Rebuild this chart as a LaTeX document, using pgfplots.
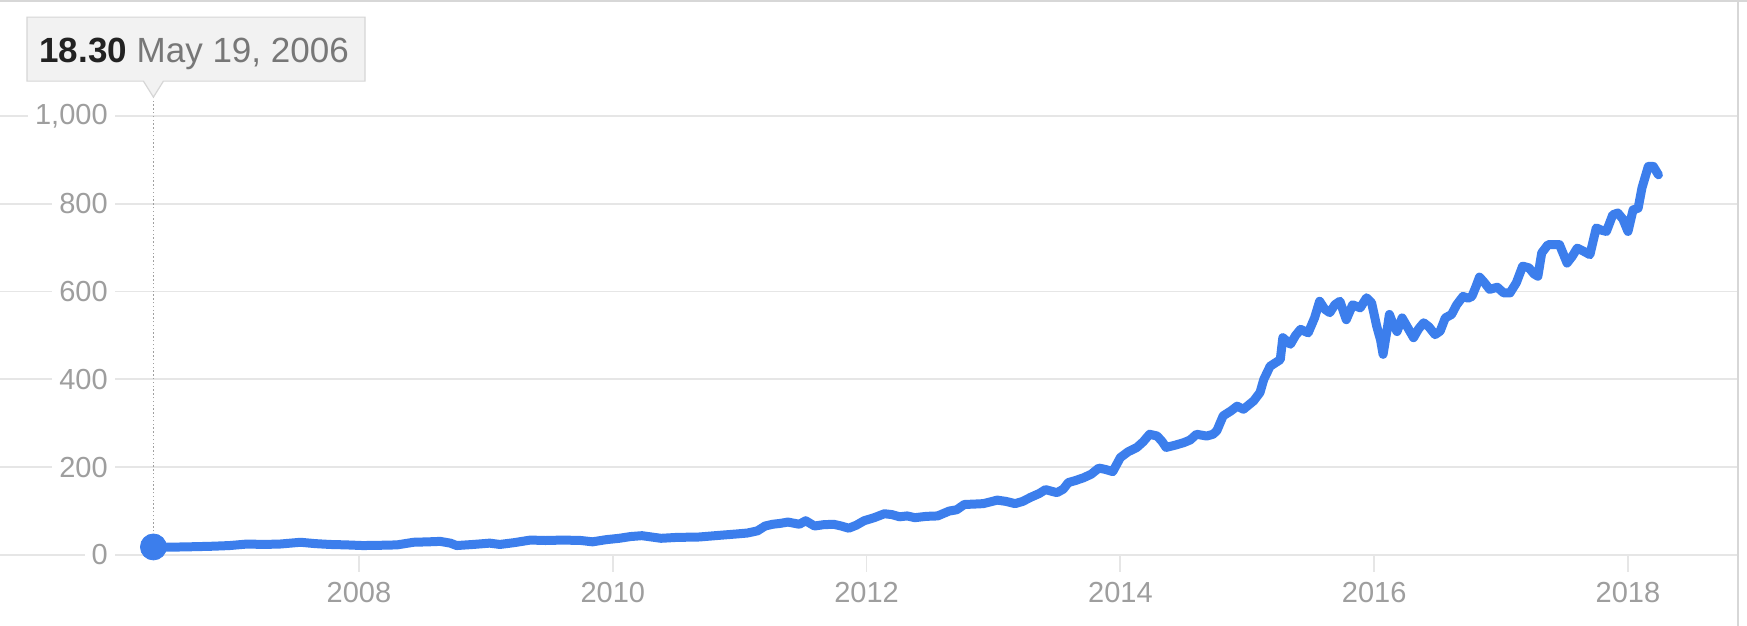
\documentclass[border=0pt]{standalone}
\usepackage{fontspec}
\setmainfont{Liberation Sans}
\usepackage{pgfplots}
\pgfplotsset{compat=1.18}

\definecolor{lineblue}{RGB}{60,126,236}
\definecolor{tickgray}{RGB}{158,158,158}
\definecolor{gridgray}{RGB}{230,230,230}
\definecolor{framegray}{RGB}{215,215,215}
\definecolor{tipfill}{RGB}{242,242,242}
\definecolor{tipdraw}{RGB}{214,214,214}
\definecolor{tiptext}{RGB}{119,119,119}
\definecolor{tipbold}{RGB}{34,34,34}

\begin{document}
\begin{tikzpicture}
\fill[white] (0,-35.5pt) rectangle (873.5pt,277.5pt);
\useasboundingbox (0,-35.5pt) rectangle (873.5pt,277.5pt);
\begin{axis}[
    at={(0,0)}, anchor=south west,
    scale only axis,
    width=869pt, height=219.5pt,
    xmin=2005.171, xmax=2018.867,
    ymin=0, ymax=1000,
    clip=false,
    axis line style={draw=none},
    ymajorgrids=true,
    major grid style={gridgray, line width=0.9pt},
    xtick={2008,2010,2012,2014,2016,2018},
    xticklabels={2008,2010,2012,2014,2016,2018},
    ytick={0,200,400,600,800,1000},
    yticklabels={0,200,400,600,800,{1,000}},
    xtick pos=bottom,
    tick align=outside,
    major tick length=8.5pt,
    xtick style={gridgray, line width=0.9pt},
    ytick style={draw=none},
    ticklabel style={font=\fontsize{14.5}{17}\selectfont, text=tickgray},
    yticklabel style={anchor=east, xshift=66pt, fill=white, inner xsep=3.5pt},
    xticklabel style={yshift=-1.5pt},
]

% daily close
\addplot[lineblue, line width=4.5pt, line join=round, line cap=round] table {
x y
2006.38 18.3
2006.55 18
2006.72 19
2006.85 20
2006.98 21.5
2007.12 25
2007.25 24
2007.38 25
2007.54 29
2007.65 26
2007.77 24
2007.90 23
2008.03 21.5
2008.15 22
2008.30 23
2008.43 29
2008.55 30
2008.64 31
2008.72 27
2008.77 21.5
2008.90 24
2009.03 27
2009.11 24
2009.22 28
2009.35 34
2009.47 33
2009.61 34
2009.75 33
2009.84 30
2009.95 35
2010.05 38
2010.14 42
2010.23 44
2010.38 38
2010.50 40
2010.68 41
2010.85 45
2010.98 48
2011.06 50
2011.14 55
2011.20 66
2011.26 70
2011.32 72
2011.38 75
2011.47 70
2011.52 78
2011.59 66
2011.66 69
2011.74 70
2011.80 66
2011.86 61
2011.92 68
2011.98 78
2012.06 85
2012.14 94
2012.20 92
2012.26 87
2012.32 89
2012.38 85
2012.47 88
2012.56 89
2012.65 100
2012.71 103
2012.77 115
2012.85 116
2012.92 117
2013.03 125
2013.10 122
2013.17 117
2013.23 122
2013.29 131
2013.36 140
2013.41 149
2013.46 145
2013.50 142
2013.55 150
2013.59 165
2013.65 170
2013.71 176
2013.77 184
2013.83 198
2013.88 195
2013.94 190
2014.00 222
2014.06 235
2014.13 245
2014.18 258
2014.23 275
2014.29 271
2014.33 258
2014.36 245
2014.43 250
2014.50 256
2014.55 262
2014.60 275
2014.68 271
2014.73 275
2014.76 283
2014.81 317
2014.87 328
2014.92 339
2014.97 332
2015.05 351
2015.10 370
2015.13 400
2015.18 430
2015.26 445
2015.28 495
2015.34 480
2015.38 500
2015.42 514
2015.48 506
2015.53 540
2015.57 578
2015.61 560
2015.65 552
2015.69 570
2015.73 578
2015.78 536
2015.83 570
2015.89 563
2015.94 586
2015.98 574
2016.02 521
2016.05 490
2016.07 457
2016.10 510
2016.12 548
2016.15 525
2016.18 509
2016.22 540
2016.26 520
2016.31 495
2016.35 515
2016.39 529
2016.43 520
2016.48 502
2016.52 510
2016.56 540
2016.61 548
2016.65 570
2016.70 589
2016.74 585
2016.77 589
2016.80 610
2016.83 633
2016.87 620
2016.91 605
2016.97 610
2017.02 597
2017.07 597
2017.12 620
2017.17 658
2017.22 654
2017.26 640
2017.29 635
2017.32 688
2017.37 707
2017.42 707
2017.46 707
2017.52 665
2017.56 680
2017.60 699
2017.65 692
2017.70 684
2017.75 745
2017.79 740
2017.83 737
2017.88 775
2017.92 779
2017.96 765
2018.00 737
2018.04 786
2018.08 790
2018.11 836
2018.16 885
2018.20 885
2018.24 866
};

% hovered point
\addplot[only marks, mark=*, mark size=6.5pt, color=lineblue] coordinates {(2006.38,18.3)};

% hover guide and tooltip
\draw[gray!75, line width=0.9pt, dash pattern=on 0.7pt off 1.2pt]
    (axis cs:2006.38,45) -- (axis cs:2006.38,1043);
\coordinate (tip) at (axis cs:2006.38,1043);
\draw[tipdraw, fill=tipfill, line width=0.6pt]
    ([xshift=-63.2pt, yshift=8pt]tip) -- ([xshift=-5pt, yshift=8pt]tip) -- (tip)
    -- ([xshift=5pt, yshift=8pt]tip) -- ([xshift=105.8pt, yshift=8pt]tip)
    -- ([xshift=105.8pt, yshift=40pt]tip) -- ([xshift=-63.2pt, yshift=40pt]tip) -- cycle;
\node[anchor=base west, inner sep=0pt, font=\fontsize{17.5}{20}\selectfont]
    at ([xshift=-57.2pt, yshift=17.5pt]tip)
    {\textcolor{tipbold}{\textbf{18.30}} \textcolor{tiptext}{May 19, 2006}};
\end{axis}
% chart frame
\draw[framegray, line width=1pt] (869pt,-35.5pt) -- (869pt,277.5pt);
\draw[framegray, line width=1pt] (0,277pt) -- (873.5pt,277pt);
\end{tikzpicture}
\end{document}
